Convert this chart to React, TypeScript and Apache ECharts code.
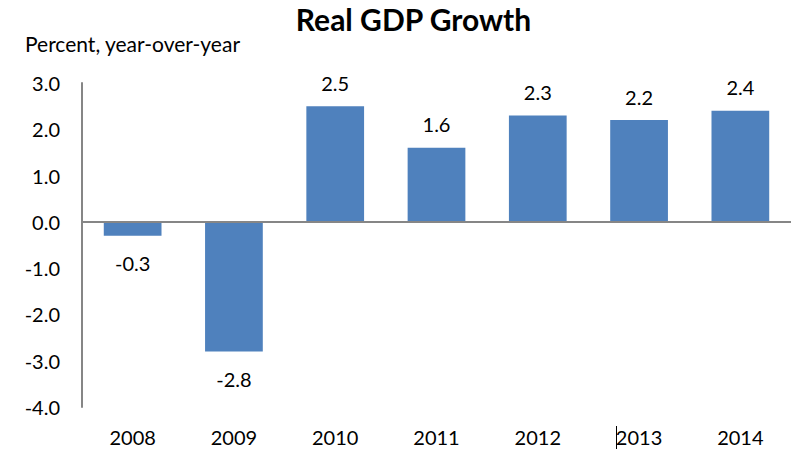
import React, { useEffect, useRef } from "react";
import * as echarts from "echarts";

const categories = ["2008", "2009", "2010", "2011", "2012", "2013", "2014"];
const growth = [-0.3, -2.8, 2.5, 1.6, 2.3, 2.2, 2.4];
const yTicks = { min: -4, max: 3, interval: 1 };
const titleText = "Real GDP Growth";
const unitText = "Percent, year-over-year";

const FONT = "Lato, 'Open Sans', sans-serif";

export default function App() {
  const ref = useRef<HTMLDivElement>(null);
  useEffect(() => {
    if (!ref.current) return;
    const chart = echarts.init(ref.current, undefined, { renderer: "svg" });
    chart.setOption({
      animation: false,
      backgroundColor: "#ffffff",
      graphic: [
        {
          type: "text",
          x: 413.5,
          y: 18.5,
          style: {
            text: titleText,
            align: "center",
            verticalAlign: "middle",
            fontFamily: FONT,
            fontWeight: "bold",
            fontSize: 30,
            fill: "#000",
          },
        },
        {
          type: "text",
          x: 25,
          y: 43,
          style: {
            text: unitText,
            align: "left",
            verticalAlign: "middle",
            fontFamily: FONT,
            fontSize: 21,
            fill: "#000",
          },
        },
        {
          type: "line",
          shape: { x1: 616.5, y1: 426, x2: 616.5, y2: 449 },
          style: { stroke: "#000", lineWidth: 1 },
        },
      ],
      grid: { left: 82, right: 18, top: 83, bottom: 49 },
      xAxis: {
        type: "category",
        data: categories,
        position: "bottom",
        axisLine: { show: false, onZero: false },
        axisTick: { show: false },
        axisLabel: { margin: 20, fontFamily: FONT, fontSize: 20, color: "#000" },
      },
      yAxis: {
        type: "value",
        min: yTicks.min,
        max: yTicks.max,
        interval: yTicks.interval,
        axisLine: { show: true, lineStyle: { color: "#868686", width: 2 } },
        axisTick: { show: false },
        splitLine: { show: false },
        axisLabel: {
          margin: 22,
          fontFamily: FONT,
          fontSize: 20,
          color: "#000",
          formatter: (v: number) => v.toFixed(1),
        },
      },
      series: [
        {
          type: "bar",
          barWidth: "57%",
          itemStyle: { color: "#4F81BD" },
          data: growth.map((v) => ({
            value: v,
            label: { position: v < 0 ? "bottom" : "top", distance: v < 0 ? 17.5 : 13.5 },
          })),
          label: {
            show: true,
            fontFamily: FONT,
            fontSize: 20,
            color: "#000",
            formatter: (p: any) => Number(p.value).toFixed(1),
          },
          markLine: {
            silent: true,
            symbol: "none",
            label: { show: false },
            lineStyle: { color: "#868686", width: 2, type: "solid" },
            data: [{ yAxis: 0 }],
          },
        },
      ],
    });
    return () => chart.dispose();
  }, []);
  return <div ref={ref} style={{ width: 809, height: 456, position: "fixed", left: 0, top: 0 }} />;
}
